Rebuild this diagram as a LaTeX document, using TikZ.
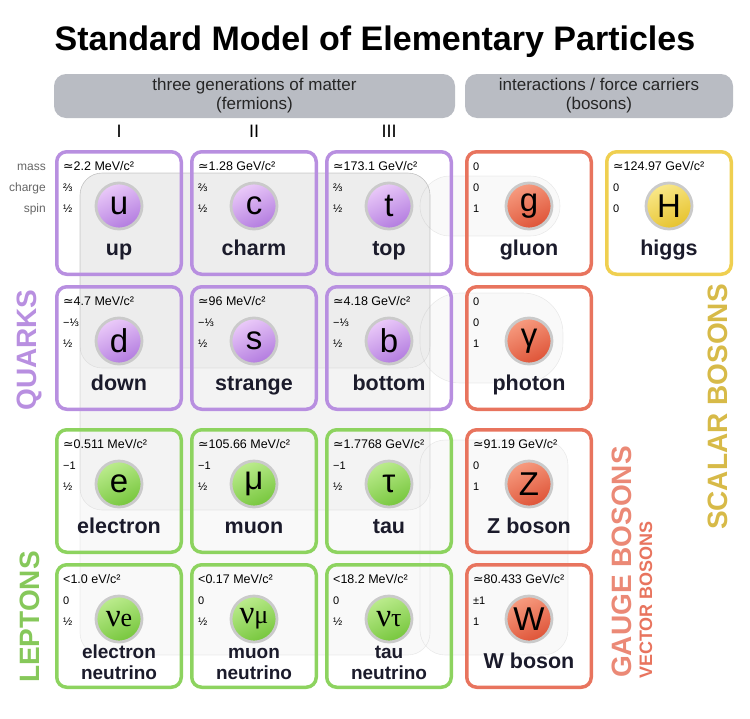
\documentclass[tikz,border=0pt]{standalone}
\usepackage{fontspec}
\setmainfont{Liberation Sans}
\newfontfamily\symfont{DejaVu Sans}
\newfontfamily\seriffont{Liberation Serif}
\usetikzlibrary{positioning}

\definecolor{quarkedge}{HTML}{B88FE0}
\definecolor{quarktop}{HTML}{EBCBF9}
\definecolor{quarkbot}{HTML}{B27BDF}
\definecolor{leptonedge}{HTML}{8DD35F}
\definecolor{leptontop}{HTML}{BCEC8E}
\definecolor{leptonbot}{HTML}{76C63C}
\definecolor{gaugeedge}{HTML}{E8745E}
\definecolor{gaugetop}{HTML}{F79C80}
\definecolor{gaugebot}{HTML}{DE5337}
\definecolor{higgsedge}{HTML}{EFCF50}
\definecolor{higgstop}{HTML}{F9E88A}
\definecolor{higgsbot}{HTML}{E6C22C}
\definecolor{ringgray}{HTML}{CACACA}
\definecolor{namecol}{HTML}{1B1B2B}
\definecolor{headgray}{HTML}{B9BCC3}

\newcommand{\aeq}{{\symfont ≃}}
\newcommand{\nusym}[1]{{\seriffont ν\fontsize{26}{26}\selectfont #1}}
\newcommand{\nuline}{\fontsize{19}{21}\bfseries}
\newcommand{\smallzero}{{\fontsize{11}{12}\selectfont 0}}

% one particle card: name, x, y, family, mass, charge, spin, symbol, label
\newcommand{\particlecard}[9]{%
  \node[card=#4, anchor=north west] (#1) at (#2,#3) {};
  \node[massval, anchor=base west] (#1-mass) at ([xshift=8pt,yshift=-20pt]#1.north west) {#5};
  \node[propval, anchor=base west] (#1-charge) at ([xshift=8pt,yshift=-41pt]#1.north west) {#6};
  \node[propval, anchor=base west] (#1-spin) at ([xshift=8pt,yshift=-62pt]#1.north west) {#7};
  \node[orb=#4] (#1-orb) at ([yshift=-56pt]#1.north) {#8};
  \node[pname, anchor=base, nameshift] (#1-name) at ([yshift=-105pt]#1.north) {#9};
}

\begin{document}
\begin{tikzpicture}[
        x=1pt, y=-1pt,
        card/.style={
            draw=#1edge,
            line width=3.5pt,
            rounded corners=10pt,
            minimum width=124.5pt,
            minimum height=122.5pt,
            inner sep=0pt
        },
        orb/.style={
            circle,
            draw=ringgray,
            line width=2.8pt,
            minimum size=46pt,
            inner sep=0pt,
            top color=#1top,
            bottom color=#1bot,
            shading angle=25,
            font=\fontsize{33}{33}\selectfont
        },
        massval/.style={inner sep=0pt, font=\fontsize{12.5}{13}\selectfont},
        propval/.style={inner sep=0pt, font=\fontsize{11}{12}\selectfont},
        pname/.style={inner sep=0pt, align=center, text=namecol,
            font=\fontsize{21.5}{21}\bfseries},
        nameshift/.style={},
        header/.style={fill=headgray, rounded corners=12pt, align=center,
            minimum height=44pt, inner sep=0pt, text=black!85,
            font=\fontsize{17}{19}\selectfont},
        gen/.style={font=\fontsize{18}{18}\selectfont},
        rowlabel/.style={anchor=base east, inner sep=0pt, text=black!60,
            font=\fontsize{12}{12}\selectfont},
        side/.style={rotate=90, inner sep=0pt, font=\fontsize{28}{28}\bfseries},
        region/.style={fill=black, fill opacity=0.025, draw=black,
            draw opacity=0.07, line width=0.6pt}
    ]

    \useasboundingbox (0,0) rectangle (750,718);

    % interaction regions behind the cards
    \path[region, rounded corners=22pt] (80,173) rectangle (430,655)
        [rounded corners=25pt] (420,440) rectangle (568,655);
    \path[region, rounded corners=22pt] (80,173) rectangle (430,510)
        [rounded corners=40pt] (420,293) rectangle (563,383);
    \path[region, rounded corners=22pt] (80,173) rectangle (430,368)
        [rounded corners=30pt] (420,176) rectangle (560,236);

    \node[font=\fontsize{34}{34}\bfseries] (title) at (375,42)
        {Standard Model of Elementary Particles};

    \node[header, minimum width=401pt] (fermions) at (254.5,96)
        {three generations of matter\\(fermions)};
    \node[header, minimum width=268pt] (bosons) at (599,96)
        {interactions / force carriers\\(bosons)};

    \node[gen] (gen1) at (119,131) {I};
    \node[gen] (gen2) at (254,131) {II};
    \node[gen] (gen3) at (389,131) {III};

    \node[rowlabel] (mass) at (46,170) {mass};
    \node[rowlabel] (charge) at (46,191) {charge};
    \node[rowlabel] (spin) at (46,212) {spin};

    \particlecard{up}{55}{150}{quark}{\aeq2.2 MeV/c²}{⅔}{½}{u}{up}
    \particlecard{charm}{190}{150}{quark}{\aeq1.28 GeV/c²}{⅔}{½}{c}{charm}
    \particlecard{top}{325}{150}{quark}{\aeq173.1 GeV/c²}{⅔}{½}{t}{top}
    \particlecard{gluon}{465}{150}{gauge}{\smallzero}{0}{1}{g}{gluon}
    \particlecard{higgs}{605}{150}{higgs}{\aeq124.97 GeV/c²}{0}{0}{H}{higgs}

    \particlecard{down}{55}{285}{quark}{\aeq4.7 MeV/c²}{−⅓}{½}{d}{down}
    \particlecard{strange}{190}{285}{quark}{\aeq96 MeV/c²}{−⅓}{½}{s}{strange}
    \particlecard{bottom}{325}{285}{quark}{\aeq4.18 GeV/c²}{−⅓}{½}{b}{bottom}
    \particlecard{photon}{465}{285}{gauge}{\smallzero}{0}{1}{γ}{photon}

    \particlecard{electron}{55}{428}{lepton}{\aeq0.511 MeV/c²}{−1}{½}{e}{electron}
    \particlecard{muon}{190}{428}{lepton}{\aeq105.66 MeV/c²}{−1}{½}{μ}{muon}
    \particlecard{tau}{325}{428}{lepton}{\aeq1.7768 GeV/c²}{−1}{½}{τ}{tau}
    \particlecard{zboson}{465}{428}{gauge}{\aeq91.19 GeV/c²}{0}{1}{Z}{Z boson}

    \begin{scope}[nameshift/.style={yshift=-11pt}]
    \particlecard{nue}{55}{563}{lepton}{<1.0 eV/c²}{0}{½}{\nusym{e}}{\nuline electron\\\nuline neutrino}
    \particlecard{numu}{190}{563}{lepton}{<0.17 MeV/c²}{0}{½}{\nusym{μ}}{\nuline muon\\\nuline neutrino}
    \particlecard{nutau}{325}{563}{lepton}{<18.2 MeV/c²}{0}{½}{\nusym{τ}}{\nuline tau\\\nuline neutrino}
    \end{scope}
    \particlecard{wboson}{465}{563}{gauge}{\aeq80.433 GeV/c²}{±1}{1}{W}{W boson}

    \node[side, text=quarkedge] (quarks) at (29,350) {QUARKS};
    \node[side, text=leptonedge!95!black] (leptons) at (30,617) {LEPTONS};
    \node[side, text=gaugeedge!85!white] (gauge) at (622,562) {GAUGE BOSONS};
    \node[side, text=gaugeedge, font=\fontsize{18}{18}\bfseries] (vector) at (646,600) {VECTOR BOSONS};
    \node[side, text=higgsedge!90!black] (scalar) at (718,407) {SCALAR BOSONS};

\end{tikzpicture}
\end{document}
